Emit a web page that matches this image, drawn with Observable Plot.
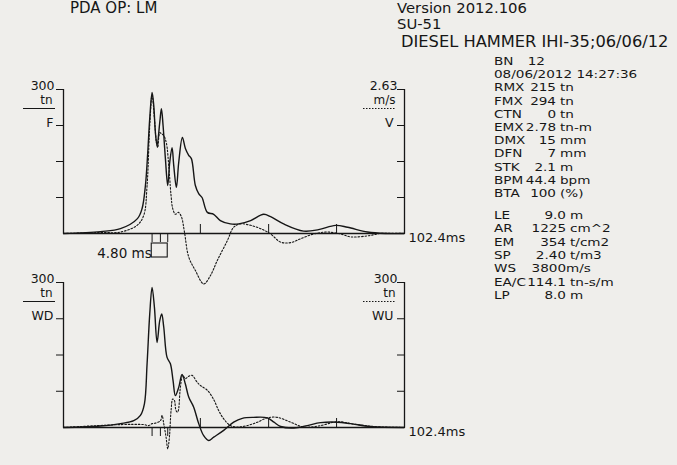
<!DOCTYPE html>
<html><head><meta charset="utf-8">
<script src="https://cdn.jsdelivr.net/npm/d3@7"></script>
<script src="https://cdn.jsdelivr.net/npm/@observablehq/plot@0.6"></script>
<style>
html,body{margin:0;padding:0;background:#efeeeb;}
#wrap{position:relative;width:677px;height:465px;overflow:hidden;}
#wrap svg{position:absolute;left:0;top:0;}
</style></head><body><div id="wrap"></div>
<script>
// ---------- DATA (ms, tn) ----------
const fTime  = [0,11.1,17.1,22.2,23.6,24.6,25.3,25.9,26.6,27.1,27.6,28.1,28.9,29.4,29.9,30.6,31.3,31.9,32.6,33.1,33.9,34.6,35.7,36.6,37.6,38.4,39.6,40.6,41.6,43.2,45.1,47.1,50.1,52.6,56.2,60.1,62.2,66.1,72.1,76.6,81.7,85.3,91.3,96.7,102.4];
const fValue = [0,4,10,31,52,100,169,240,294,267,210,183,231,260,225,156,100,148,179,142,96,148,200,177,163,156,100,83,75,44,40,27,20,20,27,40,35,20,5,8,17,13,3,0,0];
const vTime  = [0,11.1,17.1,22.1,24.1,25.1,25.9,26.6,27.3,27.9,28.3,28.9,29.4,30.1,30.9,31.6,32.3,32.8,33.6,34.5,35.4,36.3,37.6,39.6,42.1,44.1,46.2,49.2,51.1,53.2,56.2,59.2,62.2,65.2,68.2,71.2,75.1,79.2,83.2,86.2,91.3,95.2,102.4];
const vValue = [0,2,3,17,38,100,225,288,240,190,179,210,208,204,188,142,79,52,40,44,35,4,-49,-77,-105,-88,-56,-15,13,20,17,10,-1,-18,-19,-11,-1,3,-1,-7,-5,0,0];
const wdTime  = [0,11.1,17.1,21.1,23.1,24.3,25.1,25.9,26.6,27.3,28.1,28.9,29.5,30.1,31.1,32.1,32.9,33.6,34.6,35.6,36.6,37.6,39.1,40.6,42.1,43.6,45.1,48.1,51.1,53.7,57.1,61.2,63.2,65.2,69.2,73.2,77.2,82.2,86.2,92.2,102.4];
const wdValue = [0,3,8,14,25,49,132,235,290,249,176,221,235,208,145,132,97,66,83,110,90,63,42,8,-17,-27,-20,-6,11,19,21,20,11,2,-1,4,10,11,8,2,0];
const wuTime  = [0,17.1,24.1,25.6,26.6,27.6,29.1,29.6,30.1,30.8,31.3,31.8,32.3,32.8,33.3,33.8,34.3,35.1,35.8,36.6,37.6,38.6,40.1,41.1,43.2,45.1,46.6,48.1,50.1,52.2,55.2,58.2,61.2,64.2,68.2,72.2,77.2,82.2,87.2,93.2,102.4];
const wuValue = [0,6,6,4,8,9,14,25,8,-20,-44,-20,35,59,56,35,32,83,108,101,106,108,94,87,77,58,35,18,4,1,4,11,20,21,11,1,4,12,7,2,0];

const timeSpan = [0, 102.4];          // ms
const forceTicks = [0, 75, 150, 225, 300];
const baseTicks = [41.1, 61.6, 82.0]; // marks on baseline
const impactMarks = [26.6, 29.1, 31.3];
const impactTime = 26.5;
const waveTime = 4.80;                // 2L/c
const timeLabel = "102.4ms";
const waveLabel = "4.80 ms";

const upperLeft  = ["300", "tn", "F"];
const upperRight = ["2.63", "m/s", "V"];
const lowerLeft  = ["300", "tn", "WD"];
const lowerRight = ["300", "tn", "WU"];

const headerLeft = "PDA OP: LM";
const headerLines = ["Version 2012.106", "SU-51", "DIESEL HAMMER IHI-35;06/06/12"];
const blowNumber = "12";
const timestamp = "08/06/2012 14:27:36";
const g1Labels = ["RMX","FMX","CTN","EMX","DMX","DFN","STK","BPM","BTA"];
const g1Values = ["215","294","0","2.78","15","7","2.1","44.4","100"];
const g1Units  = ["tn","tn","tn","tn-m","mm","mm","m","bpm","(%)"];
const g2Labels = ["LE","AR","EM","SP","WS","EA/C","LP"];
const g2Values = ["9.0","1225","354","2.40","3800","114.1","8.0"];
const g2Units  = ["m","cm^2","t/cm2","t/m3","m/s","tn-s/m","m"];

// ---------- BUILD ----------
const zip = (t, v) => t.map((d, i) => ({t: d, v: v[i]}));
const ink = "#161616";
const font = "DejaVu Sans";
const wrap = document.getElementById("wrap");
const msPerPx = (timeSpan[1] - timeSpan[0]) / 341;

function panel(top, bottom, solid, dotted, left, right, showBox) {
  const tnPerPx = 300 / (bottom - top);
  const px = p => p * tnPerPx;       // pixel offset -> tn
  const pm = p => p * msPerPx;       // pixel offset -> ms
  const T = timeSpan[1];
  const txt = {fontFamily: font, fontSize: 12, fill: ink};
  const marks = [
    Plot.ruleX(timeSpan, {y1: 0, y2: 300, stroke: ink, strokeWidth: 1.3}),
    Plot.ruleY([0], {x1: timeSpan[0], x2: T, stroke: ink, strokeWidth: 1.3}),
    Plot.ruleY(forceTicks.slice(1), {x1: -pm(7), x2: 0, stroke: ink}),
    Plot.ruleY(forceTicks.slice(1), {x1: T - pm(7), x2: T, stroke: ink}),
    Plot.ruleX(baseTicks, {y1: 0, y2: px(9), stroke: ink}),
    Plot.ruleX(impactMarks, {y1: 0, y2: -px(9), stroke: ink}),
    Plot.line(zip(dotted[0], dotted[1]), {x: "t", y: "v", curve: "catmull-rom", stroke: ink, strokeWidth: 1.1, strokeDasharray: "1.6,1.8"}),
    Plot.line(zip(solid[0], solid[1]), {x: "t", y: "v", curve: "catmull-rom", stroke: ink, strokeWidth: 1.4}),
    // left labels
    Plot.text([left[0]], {...txt, fontSize: 12.5, x: 0, y: 300, dx: -9, textAnchor: "end", lineAnchor: "bottom"}),
    Plot.text([left[1]], {...txt, x: 0, y: 300, dx: -11, dy: 14.5, textAnchor: "end", lineAnchor: "bottom"}),
    Plot.ruleY([300], {x1: -pm(40), x2: -pm(8), dy: 19, stroke: ink, strokeWidth: 1}),
    Plot.text([left[2]], {...txt, fontSize: 12.5, x: 0, y: 225, dx: -10, dy: 1, textAnchor: "end", lineAnchor: "bottom"}),
    // right labels
    Plot.text([right[0]], {...txt, fontSize: 12.5, x: T, y: 300, dx: -7, textAnchor: "end", lineAnchor: "bottom"}),
    Plot.text([right[1]], {...txt, x: T, y: 300, dx: -9, dy: 14.5, textAnchor: "end", lineAnchor: "bottom"}),
    Plot.ruleY([300], {x1: T - pm(41), x2: T - pm(8), dy: 19, stroke: ink, strokeWidth: 1, strokeDasharray: "1.5,1.5"}),
    Plot.text([right[2]], {...txt, fontSize: 12.5, x: T, y: 225, dx: -11, dy: 1, textAnchor: "end", lineAnchor: "bottom"}),
    Plot.text([timeLabel], {...txt, fontSize: 13, x: T, y: 0, dx: 4, dy: 4, textAnchor: "start", lineAnchor: "middle"})
  ];
  if (showBox) {
    marks.push(
      Plot.rect([{a: impactTime, b: impactTime + waveTime}], {x1: "a", x2: "b", y1: -px(10), y2: -px(24), fill: "none", stroke: ink, strokeWidth: 1.1}),
      Plot.text([waveLabel], {...txt, fontSize: 13.5, x: impactTime, y: -px(24), dx: 0, textAnchor: "end", lineAnchor: "bottom"})
    );
  }
  return Plot.plot({
    width: 677, height: 465,
    marginTop: top, marginBottom: 465 - bottom, marginLeft: 63, marginRight: 677 - 404,
    x: {domain: timeSpan, axis: null},
    y: {domain: [0, 300], axis: null},
    style: {background: "transparent", overflow: "visible"},
    marks
  });
}

wrap.appendChild(panel(89, 233, [fTime, fValue], [vTime, vValue], upperLeft, upperRight, true));
wrap.appendChild(panel(282, 427, [wdTime, wdValue], [wuTime, wuValue], lowerLeft, lowerRight, false));

// ---------- TEXT BLOCKS ----------
const svg = d3.select(wrap).append("svg").attr("width", 677).attr("height", 465)
  .style("font-family", font).style("fill", ink).style("white-space", "pre");
function put(g, x, y, size, sx, s, anchor) {
  g.append("text")
    .attr("transform", `translate(${x},${y}) scale(${sx},1)`)
    .attr("font-size", size)
    .attr("text-anchor", anchor || "start")
    .text(s);
}
put(svg, 70, 13, 15, 1, headerLeft);
put(svg, 397, 12.5, 14, 1.06, headerLines[0]);
put(svg, 397, 29, 14, 1.06, headerLines[1]);
put(svg, 401, 47.2, 15.5, 1.05, headerLines[2]);

const fs = 11.3, sx = 1.2;
const lx = 494;
put(svg, lx, 65, fs, sx, "BN");
put(svg, 545, 65, fs, sx, blowNumber, "end");
put(svg, lx, 78.2, fs, sx, timestamp);
g1Labels.forEach((l, i) => {
  const y = 65 + (i + 2) * 13.2;
  put(svg, lx, y, fs, sx, l);
  put(svg, 556, y, fs, sx, g1Values[i], "end");
  put(svg, 560, y, fs, sx, g1Units[i]);
});
g2Labels.forEach((l, i) => {
  const y = 219 + i * 13.3;
  put(svg, lx, y, fs, sx, l);
  put(svg, 566, y, fs, sx, g2Values[i], "end");
  put(svg, g2Units[i] === "m/s" ? 566 : 570, y, fs, sx, g2Units[i]);
});
</script></body></html>
